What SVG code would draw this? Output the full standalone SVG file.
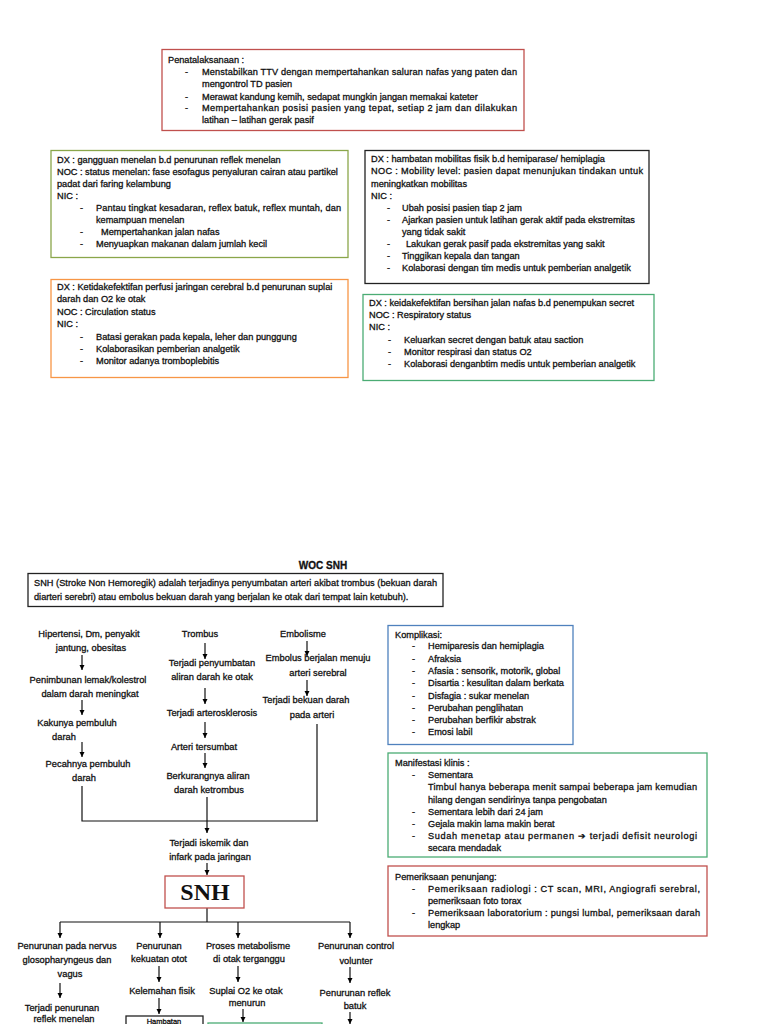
<svg xmlns="http://www.w3.org/2000/svg" width="768" height="1024" viewBox="0 0 768 1024">
<defs>
<marker id="ah" viewBox="0 0 10 10" refX="10" refY="5" markerUnits="userSpaceOnUse" markerWidth="5" markerHeight="6" orient="auto"><path d="M0,0 L10,5 L0,10 z" fill="#000"/></marker>
<style>
text{font-family:"Liberation Sans",Arial,sans-serif;font-size:9.2px;fill:#111;stroke:#111;stroke-width:0.3px}
.c{text-anchor:middle}
.f{font-size:9.3px}
.b{fill:#fff;stroke-width:1.3}
.red{stroke:#c0504d}
.olive{stroke:#8aa64a}
.blk{stroke:#222}
.org{stroke:#f79646}
.grn{stroke:#4bac74}
.blu{stroke:#4f81bd}
.ln{stroke:#111;stroke-width:1.2;fill:none}
.ar{stroke:#111;stroke-width:1.2;fill:none;marker-end:url(#ah)}
</style>
</defs>
<rect width="768" height="1024" fill="#fff"/>

<g id="penatalaksanaan">
<rect class="b red" x="162" y="49.5" width="362" height="81"/>
<text x="168" y="63">Penatalaksanaan :</text>
<text x="185" y="75">-</text><text x="202" y="75" textLength="315">Menstabilkan TTV dengan mempertahankan saluran nafas yang paten dan</text>
<text x="202" y="87">mengontrol TD pasien</text>
<text x="185" y="100">-</text><text x="202" y="100">Merawat kandung kemih, sedapat mungkin jangan memakai kateter</text>
<text x="185" y="111">-</text><text x="202" y="111" textLength="315">Mempertahankan posisi pasien yang tepat, setiap 2 jam dan dilakukan</text>
<text x="202" y="123">latihan – latihan gerak pasif</text>
</g>

<g id="dx-menelan">
<rect class="b olive" x="51" y="150.5" width="297" height="107"/>
<text x="57" y="163">DX : gangguan menelan b.d penurunan reflek menelan</text>
<text x="57" y="175">NOC : status menelan: fase esofagus penyaluran cairan atau partikel</text>
<text x="57" y="187">padat dari faring kelambung</text>
<text x="57" y="199">NIC :</text>
<text x="80" y="211">-</text><text x="96" y="211" textLength="245">Pantau tingkat kesadaran, reflex batuk, reflex muntah, dan</text>
<text x="96" y="223">kemampuan menelan</text>
<text x="80" y="235">-</text><text x="101" y="235">Mempertahankan jalan nafas</text>
<text x="80" y="247">-</text><text x="96" y="247">Menyuapkan makanan dalam jumlah kecil</text>
</g>

<g id="dx-mobilitas">
<rect class="b blk" x="365" y="150.5" width="284" height="133"/>
<text x="371" y="162">DX : hambatan mobilitas fisik b.d hemiparase/ hemiplagia</text>
<text x="371" y="174" textLength="272">NOC : Mobility level: pasien dapat menunjukan tindakan untuk</text>
<text x="371" y="187">meningkatkan mobilitas</text>
<text x="371" y="199">NIC :</text>
<text x="387" y="211">-</text><text x="402" y="211">Ubah posisi pasien tiap 2 jam</text>
<text x="387" y="223">-</text><text x="402" y="223">Ajarkan pasien untuk latihan gerak aktif pada ekstremitas</text>
<text x="402" y="235">yang tidak sakit</text>
<text x="387" y="247">-</text><text x="406" y="247">Lakukan gerak pasif pada ekstremitas yang sakit</text>
<text x="387" y="259">-</text><text x="402" y="259">Tinggikan kepala dan tangan</text>
<text x="387" y="271">-</text><text x="402" y="271">Kolaborasi dengan tim medis untuk pemberian analgetik</text>
</g>

<g id="dx-perfusi">
<rect class="b org" x="51" y="279.5" width="297" height="98"/>
<text x="57" y="290">DX : Ketidakefektifan perfusi jaringan cerebral  b.d penurunan suplai</text>
<text x="57" y="302">darah dan O2 ke otak</text>
<text x="57" y="315">NOC : Circulation status</text>
<text x="57" y="327">NIC :</text>
<text x="80" y="340">-</text><text x="96" y="340">Batasi gerakan pada kepala, leher dan punggung</text>
<text x="80" y="352">-</text><text x="96" y="352">Kolaborasikan pemberian analgetik</text>
<text x="80" y="364">-</text><text x="96" y="364">Monitor adanya tromboplebitis</text>
</g>

<g id="dx-jalan-nafas">
<rect class="b grn" x="363" y="294.5" width="291" height="86"/>
<text x="369" y="306">DX : keidakefektifan bersihan jalan nafas b.d penempukan secret</text>
<text x="369" y="318">NOC : Respiratory status</text>
<text x="369" y="330">NIC :</text>
<text x="388" y="343">-</text><text x="404" y="343">Keluarkan secret dengan batuk atau saction</text>
<text x="388" y="355">-</text><text x="404" y="355">Monitor respirasi dan status O2</text>
<text x="388" y="367">-</text><text x="404" y="367">Kolaborasi denganbtim medis untuk pemberian analgetik</text>
</g>

<g id="title">
<text class="c" x="323" y="569" style="font-weight:bold;font-size:10px">WOC SNH</text>
</g>

<g id="definisi">
<rect class="b blk" x="28" y="573.5" width="415" height="33"/>
<text x="34" y="586" textLength="403">SNH (Stroke Non Hemoregik) adalah terjadinya penyumbatan arteri akibat trombus (bekuan darah</text>
<text x="34" y="600">diarteri serebri) atau embolus bekuan darah yang berjalan ke otak dari tempat lain ketubuh).</text>
</g>

<g id="connectors">
<line class="ar" x1="82" y1="655" x2="82" y2="670"/>
<line class="ar" x1="82" y1="700" x2="82" y2="715"/>
<line class="ar" x1="82" y1="742" x2="82" y2="757"/>
<polyline class="ln" points="82,786 82,821 318,821"/>
<line class="ar" x1="205" y1="643" x2="205" y2="659"/>
<line class="ar" x1="205" y1="688" x2="205" y2="704"/>
<line class="ar" x1="205" y1="722" x2="205" y2="738"/>
<line class="ar" x1="205" y1="753" x2="205" y2="768"/>
<line class="ar" x1="207" y1="797" x2="207" y2="833"/>
<line class="ar" x1="307" y1="641" x2="307" y2="656"/>
<line class="ar" x1="307" y1="680" x2="307" y2="696"/>
<line class="ln" x1="317" y1="724" x2="317" y2="821"/>
<line class="ar" x1="207" y1="863" x2="207" y2="875"/>
<line class="ln" x1="207" y1="908" x2="207" y2="922"/>
<line class="ln" x1="60" y1="922" x2="350" y2="922"/>
<line class="ar" x1="60" y1="922" x2="60" y2="938"/>
<line class="ar" x1="160" y1="922" x2="160" y2="938"/>
<line class="ar" x1="238" y1="922" x2="238" y2="938"/>
<line class="ar" x1="350" y1="922" x2="350" y2="938"/>
<line class="ar" x1="60" y1="983" x2="60" y2="998"/>
<line class="ar" x1="159" y1="966" x2="159" y2="982"/>
<line class="ar" x1="159" y1="998" x2="159" y2="1014"/>
<line class="ar" x1="238" y1="966" x2="238" y2="982"/>
<line class="ar" x1="243" y1="1009" x2="243" y2="1022"/>
<line class="ar" x1="350" y1="967" x2="350" y2="983"/>
<line class="ar" x1="350" y1="1012" x2="350" y2="1024"/>
</g>

<g id="n-hipertensi"><text class="c f" x="89" y="637">Hipertensi, Dm, penyakit</text><text class="c f" x="91" y="651">jantung, obesitas</text></g>
<g id="n-penimbunan"><text class="c f" x="88" y="683">Penimbunan lemak/kolestrol</text><text class="c f" x="90" y="697">dalam darah meningkat</text></g>
<g id="n-kakunya"><text class="c f" x="77" y="726">Kakunya pembuluh</text><text class="c f" x="64" y="740">darah</text></g>
<g id="n-pecahnya"><text class="c f" x="88" y="767">Pecahnya pembuluh</text><text class="c f" x="84" y="781">darah</text></g>

<g id="n-trombus"><text class="c f" x="200" y="637">Trombus</text></g>
<g id="n-penyumbatan"><text class="c f" x="212" y="666">Terjadi penyumbatan</text><text class="c f" x="212" y="680">aliran darah ke otak</text></g>
<g id="n-arterosklerosis"><text class="c f" x="212" y="716">Terjadi arterosklerosis</text></g>
<g id="n-tersumbat"><text class="c f" x="204" y="750">Arteri tersumbat</text></g>
<g id="n-berkurangnya"><text class="c f" x="208" y="779">Berkurangnya aliran</text><text class="c f" x="209" y="793">darah ketrombus</text></g>

<g id="n-embolisme"><text class="c f" x="303" y="637">Embolisme</text></g>
<g id="n-embolus"><text class="c f" x="318" y="661">Embolus berjalan menuju</text><text class="c f" x="318" y="676">arteri serebral</text></g>
<g id="n-bekuan"><text class="c f" x="306" y="703">Terjadi bekuan darah</text><text class="c f" x="312" y="718">pada arteri</text></g>

<g id="n-iskemik"><text class="c f" x="209" y="846">Terjadi iskemik dan</text><text class="c f" x="210" y="860">infark pada jaringan</text></g>
<g id="n-snh">
<rect class="b red" x="165" y="876" width="79" height="32"/>
<text class="c" x="205" y="900" style="font-family:'Liberation Serif','Times New Roman',serif;font-weight:bold;font-size:24px;stroke-width:0">SNH</text>
</g>

<g id="n-nervus"><text class="c f" x="67" y="949">Penurunan pada nervus</text><text class="c f" x="67" y="963">glosopharyngeus  dan</text><text class="c f" x="70" y="977">vagus</text></g>
<g id="n-reflek-menelan"><text class="c f" x="62" y="1011">Terjadi penurunan</text><text class="c f" x="64" y="1022">reflek menelan</text></g>
<g id="n-kekuatan"><text class="c f" x="159" y="949">Penurunan</text><text class="c f" x="159" y="962">kekuatan otot</text></g>
<g id="n-kelemahan"><text class="c f" x="162" y="994">Kelemahan fisik</text></g>
<g id="n-hambatan"><rect class="b blk" x="126" y="1016" width="77" height="20"/><text class="c" x="164" y="1023.5" style="font-size:7.5px">Hambatan</text></g>
<g id="n-metabolisme"><text class="c f" x="248" y="949">Proses metabolisme</text><text class="c f" x="249" y="962">di otak terganggu</text></g>
<g id="n-suplai"><text class="c f" x="246" y="994">Suplai O2 ke otak</text><text class="c f" x="247" y="1006">menurun</text></g>
<g id="n-green-bottom"><rect class="b grn" x="208" y="1023" width="114" height="20"/></g>
<g id="n-volunter"><text class="c f" x="356" y="949">Penurunan control</text><text class="c f" x="356" y="964">volunter</text></g>
<g id="n-batuk"><text class="c f" x="355" y="996">Penurunan reflek</text><text class="c f" x="355" y="1009">batuk</text></g>

<g id="komplikasi">
<rect class="b blu" x="388" y="625.5" width="185" height="119"/>
<text x="395" y="638">Komplikasi:</text>
<text x="412" y="649">-</text><text x="428" y="649">Hemiparesis dan hemiplagia</text>
<text x="412" y="662">-</text><text x="428" y="662">Afraksia</text>
<text x="412" y="674">-</text><text x="428" y="674">Afasia : sensorik, motorik, global</text>
<text x="412" y="686">-</text><text x="428" y="686">Disartia : kesulitan dalam berkata</text>
<text x="412" y="699">-</text><text x="428" y="699">Disfagia : sukar menelan</text>
<text x="412" y="711">-</text><text x="428" y="711">Perubahan penglihatan</text>
<text x="412" y="723">-</text><text x="428" y="723">Perubahan berfikir abstrak</text>
<text x="412" y="735">-</text><text x="428" y="735">Emosi labil</text>
</g>

<g id="manifestasi">
<rect class="b grn" x="388" y="753" width="319" height="104"/>
<text x="395" y="766">Manifestasi klinis :</text>
<text x="412" y="778">-</text><text x="428" y="778">Sementara</text>
<text x="428" y="790" textLength="269">Timbul hanya beberapa menit sampai beberapa jam kemudian</text>
<text x="428" y="803">hilang dengan sendirinya tanpa pengobatan</text>
<text x="412" y="815">-</text><text x="428" y="815">Sementara lebih dari 24 jam</text>
<text x="412" y="827">-</text><text x="428" y="827">Gejala makin lama makin berat</text>
<text x="412" y="839">-</text><text x="428" y="839" textLength="269">Sudah menetap atau permanen ➔ terjadi defisit neurologi</text>
<text x="428" y="851">secara mendadak</text>
</g>

<g id="pemeriksaan">
<rect class="b red" x="388" y="866" width="319" height="70"/>
<text x="395" y="880">Pemeriksaan penunjang:</text>
<text x="412" y="892">-</text><text x="428" y="892" textLength="272">Pemeriksaan radiologi : CT scan, MRI, Angiografi serebral,</text>
<text x="428" y="904">pemeriksaan foto torax</text>
<text x="412" y="916">-</text><text x="428" y="916" textLength="272">Pemeriksaan laboratorium : pungsi lumbal, pemeriksaan darah</text>
<text x="428" y="928">lengkap</text>
</g>
</svg>
